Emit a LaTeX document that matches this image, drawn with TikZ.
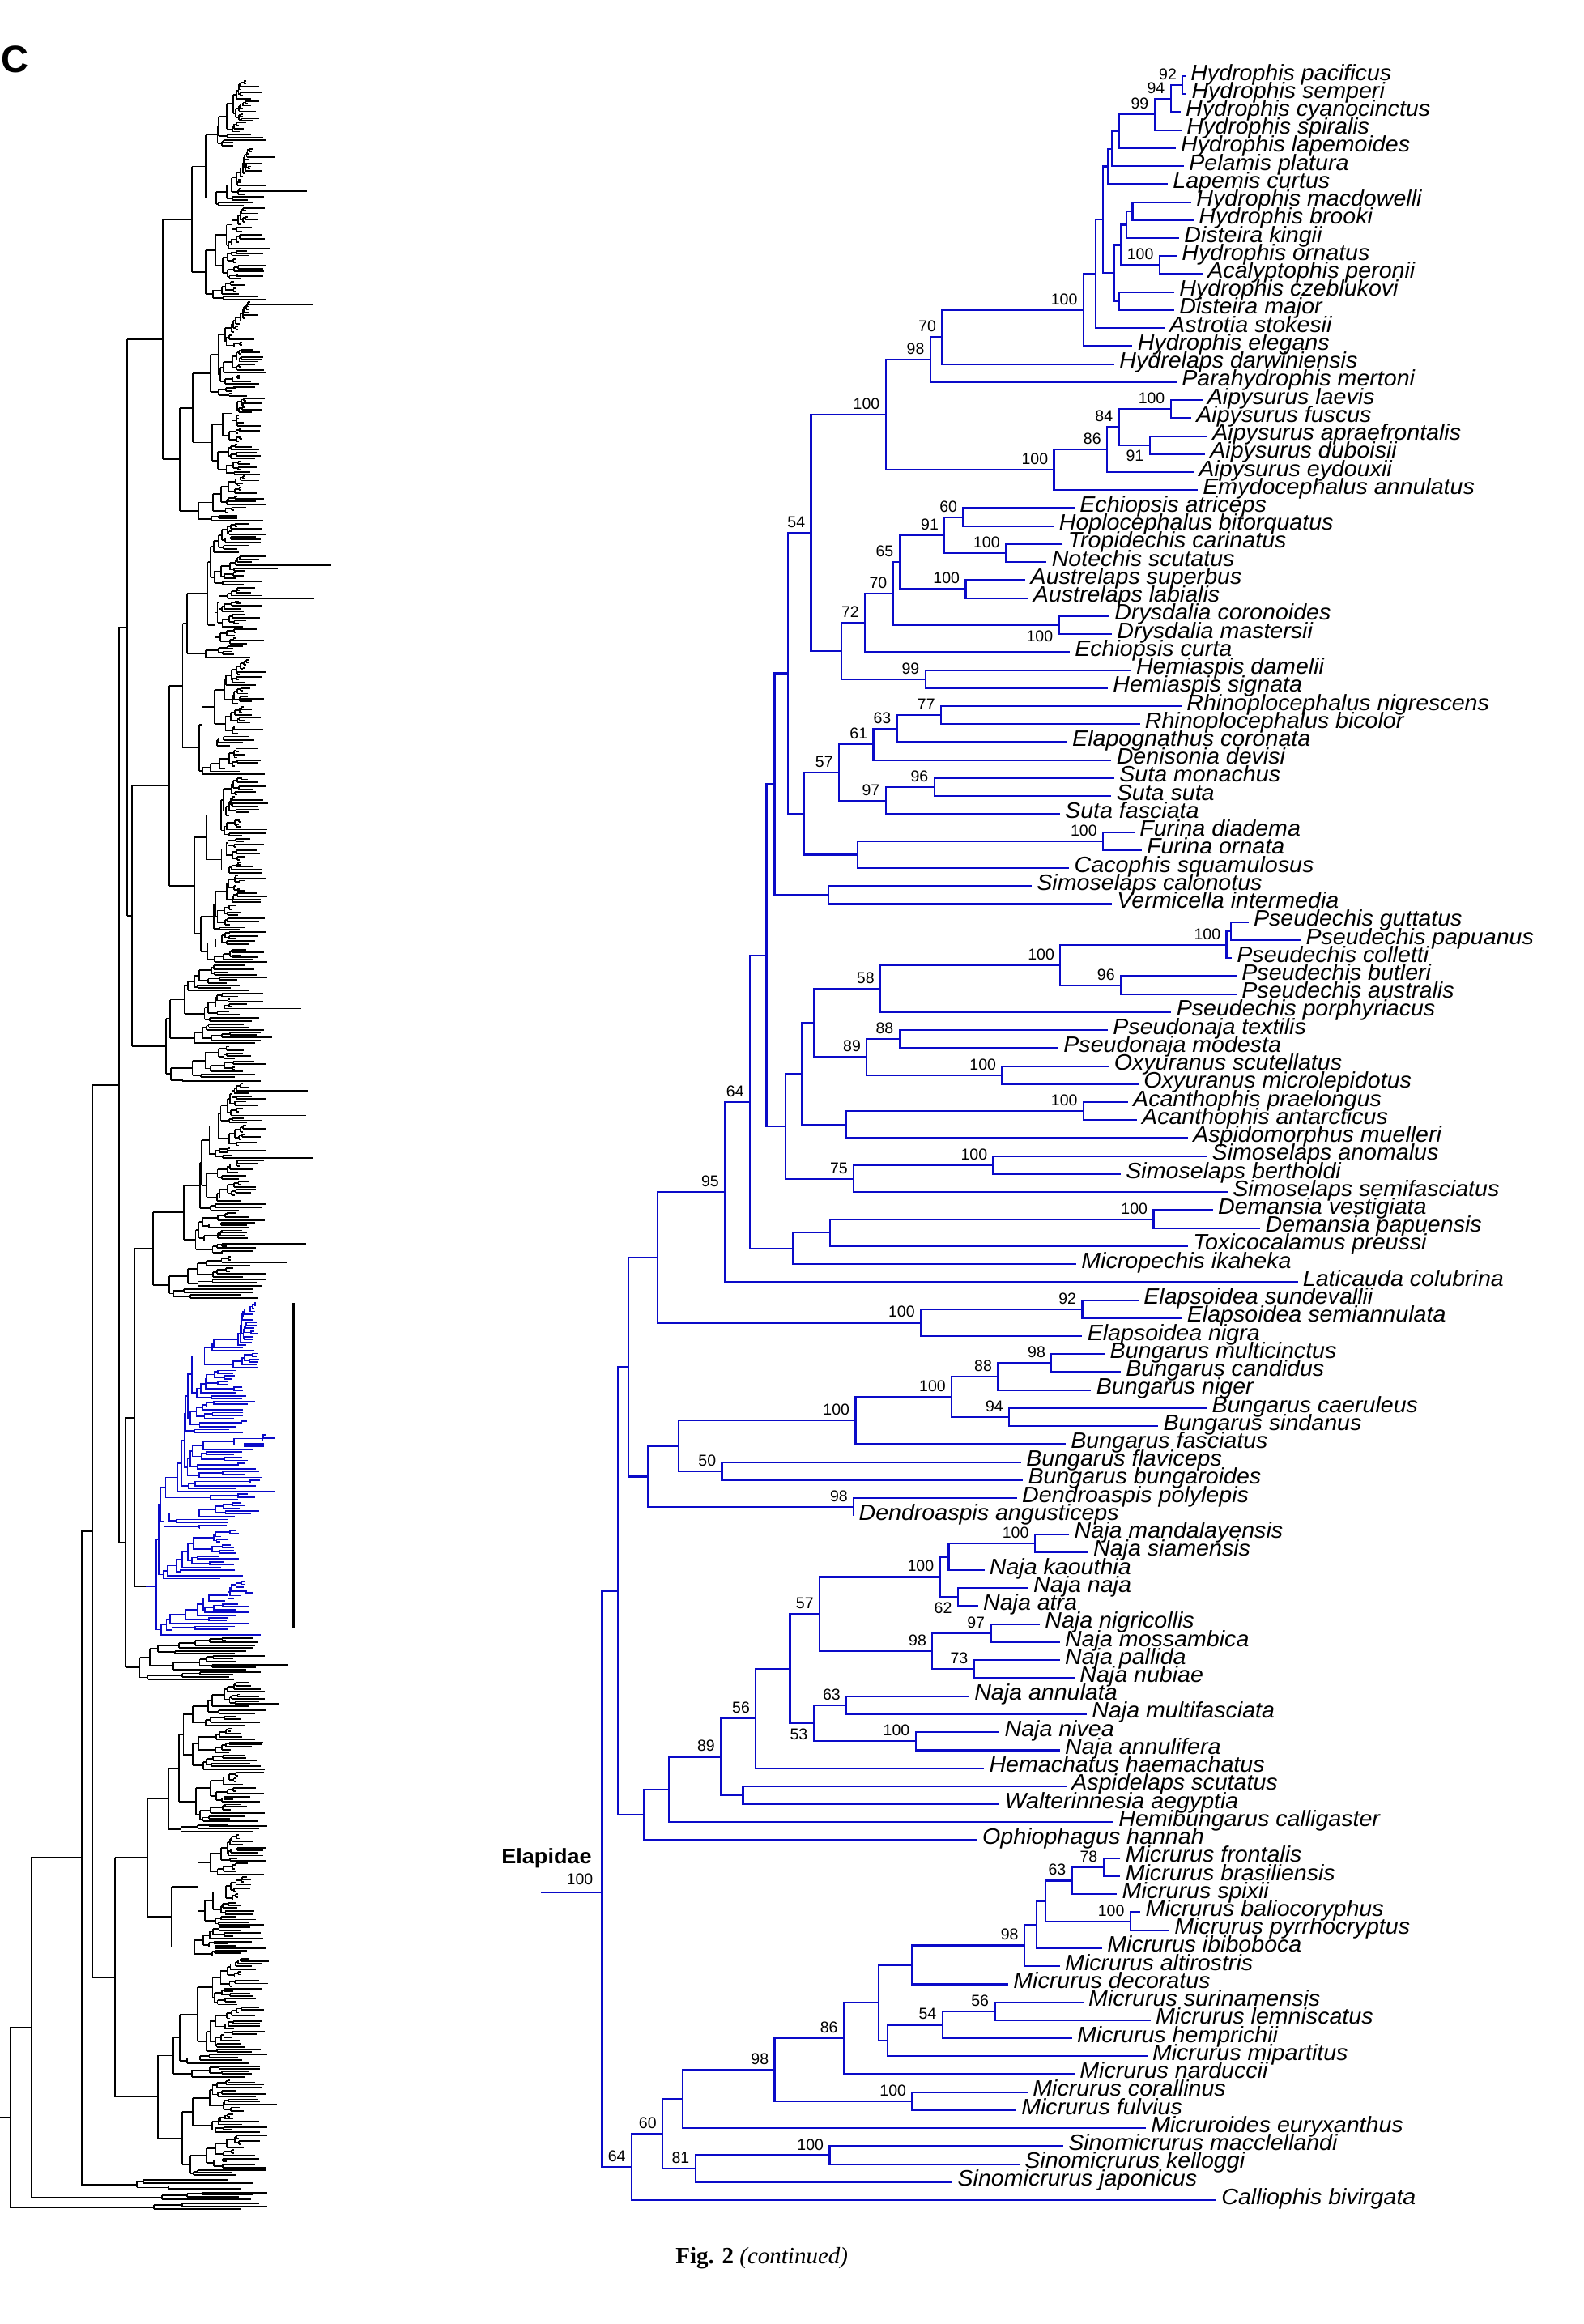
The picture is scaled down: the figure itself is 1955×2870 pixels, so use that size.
\documentclass[tikz,border=0pt]{standalone}
\usepackage{fontspec}
\setmainfont{Liberation Sans}
\newfontfamily\taxfont[FakeStretch=1.04]{Liberation Sans}
\newfontfamily\capfont{Liberation Serif}
\usetikzlibrary{calc}
\definecolor{elblue}{RGB}{10,10,200}
\newif\iflab
\def\brw{1.1pt}
\tikzset{
 br/.style={draw=elblue,line width=\brw},
 lt/.style={draw=black,line width=0.9pt},
 taxon/.style={anchor=base west,inner sep=0pt,xshift=3pt,yshift=-2.5pt,font=\taxfont\itshape\fontsize{13.75}{14}\selectfont},
 lab/.style={inner sep=0pt,font=\fontsize{9.75}{10}\selectfont},
}
\newcommand\tp[4]{\coordinate (#1) at (#3,{94+22.23*(#2-1)});\iflab\node[taxon] at (#1) {#4};\fi}
\newcommand\cl[4]{\path ($(#3)!0.5!(#4)$) coordinate (mtmp) (#2,0) coordinate (xtmp);\coordinate (#1) at (xtmp |- mtmp);\draw[br] (#3) -| (#1) |- (#4);}
\newcommand\clxy[5]{\coordinate (#1) at (#2,#3);\draw[br] (#4) -| (#1) |- (#5);}
\newcommand\la[2]{\node[lab,anchor=south east] at ([xshift=-3.5pt,yshift=3pt]#1) {#2};}
\newcommand\lb[2]{\node[lab,anchor=north east] at ([xshift=-3.5pt,yshift=-3pt]#1) {#2};}
% random black tree
\def\rtree#1#2#3{\begingroup\edef\rtpx{#1}\edef\rta{#2}\edef\rtb{#3}\rtbody\endgroup}
\def\rtbody{%
\pgfmathsetmacro\rtspan{\rtb-\rta}%
\ifdim\rtspan pt<5pt\relax
  \pgfmathsetmacro\rty{(\rta+\rtb)/2}%
  \pgfmathsetmacro\rtx{max(\rtpx+3,278+52*rnd)+(rnd<0.05)*100*rnd}%
  \draw[lt] (\rtpx,\rty) -- (\rtx,\rty);%
  \xdef\retY{\rty}%
\else
  \pgfmathsetmacro\rtnx{\rtpx+max(310-\rtpx,8)*(0.04+0.3*rnd)}%
  \pgfmathsetmacro\rts{max(\rta+3.45,min(\rtb-3.45,\rta+(\rtb-\rta)*(0.45+0.5*rnd)))}%
  \rtree{\rtnx}{\rta}{\rts}\let\rtya\retY
  \rtree{\rtnx}{\rts}{\rtb}\let\rtyb\retY
  \pgfmathsetmacro\rty{(\rtya+\rtyb)/2}%
  \draw[lt] (\rtnx,\rtya) -- (\rtnx,\rtyb) (\rtpx,\rty) -- (\rtnx,\rty);%
  \xdef\retY{\rty}%
\fi}
\newcommand\elapidtree{%
\tp{pac}{1}{1463.9}{Hydrophis pacificus}
\tp{semp}{2}{1465.1}{Hydrophis semperi}
\tp{cyan}{3}{1457.8}{Hydrophis cyanocinctus}
\tp{spir}{4}{1459}{Hydrophis spiralis}
\tp{lapm}{5}{1451.8}{Hydrophis lapemoides}
\tp{pela}{6}{1462}{Pelamis platura}
\tp{lcur}{7}{1442}{Lapemis curtus}
\tp{macd}{8}{1471}{Hydrophis macdowelli}
\tp{broo}{9}{1474}{Hydrophis brooki}
\tp{king}{10}{1456}{Disteira kingii}
\tp{orna}{11}{1453}{Hydrophis ornatus}
\tp{acal}{12}{1485}{Acalyptophis peronii}
\tp{czeb}{13}{1450}{Hydrophis czeblukovi}
\tp{dmaj}{14}{1450}{Disteira major}
\tp{astr}{15}{1437.8}{Astrotia stokesii}
\tp{eleg}{16}{1398.4}{Hydrophis elegans}
\tp{hydr}{17}{1376}{Hydrelaps darwiniensis}
\tp{para}{18}{1453}{Parahydrophis mertoni}
\tp{alae}{19}{1484.5}{Aipysurus laevis}
\tp{afus}{20}{1471}{Aipysurus fuscus}
\tp{aapr}{21}{1491}{Aipysurus apraefrontalis}
\tp{adub}{22}{1488}{Aipysurus duboisii}
\tp{aeyd}{23}{1474}{Aipysurus eydouxii}
\tp{emyd}{24}{1479}{Emydocephalus annulatus}
\tp{eatr}{25}{1327}{Echiopsis atriceps}
\tp{hopl}{26}{1301.5}{Hoplocephalus bitorquatus}
\tp{trop}{27}{1312.4}{Tropidechis carinatus}
\tp{note}{28}{1292.4}{Notechis scutatus}
\tp{asup}{29}{1266.3}{Austrelaps superbus}
\tp{alab}{30}{1269.4}{Austrelaps labialis}
\tp{dcor}{31}{1370}{Drysdalia coronoides}
\tp{dmas}{32}{1373}{Drysdalia mastersii}
\tp{ecur}{33}{1320.9}{Echiopsis curta}
\tp{hdam}{34}{1396.6}{Hemiaspis damelii}
\tp{hsig}{35}{1368}{Hemiaspis signata}
\tp{rnig}{36}{1459}{Rhinoplocephalus nigrescens}
\tp{rbic}{37}{1407.5}{Rhinoplocephalus bicolor}
\tp{elco}{38}{1317.8}{Elapognathus coronata}
\tp{deni}{39}{1372.4}{Denisonia devisi}
\tp{smon}{40}{1376}{Suta monachus}
\tp{ssut}{41}{1372.4}{Suta suta}
\tp{sfas}{42}{1308.8}{Suta fasciata}
\tp{fdia}{43}{1400.9}{Furina diadema}
\tp{forn}{44}{1409.7}{Furina ornata}
\tp{caco}{45}{1320.3}{Cacophis squamulosus}
\tp{scal}{46}{1274}{Simoselaps calonotus}
\tp{verm}{47}{1373}{Vermicella intermedia}
\tp{pgut}{48}{1541.6}{Pseudechis guttatus}
\tp{ppap}{49}{1606.1}{Pseudechis papuanus}
\tp{pcol}{50}{1521}{Pseudechis colletti}
\tp{pbut}{51}{1527}{Pseudechis butleri}
\tp{paus}{52}{1527}{Pseudechis australis}
\tp{ppor}{53}{1446.4}{Pseudechis porphyriacus}
\tp{ptex}{54}{1368}{Pseudonaja textilis}
\tp{pmod}{55}{1307}{Pseudonaja modesta}
\tp{oscu}{56}{1369.4}{Oxyuranus scutellatus}
\tp{omic}{57}{1406}{Oxyuranus microlepidotus}
\tp{apra}{58}{1392.8}{Acanthophis praelongus}
\tp{aant}{59}{1403.8}{Acanthophis antarcticus}
\tp{aspm}{60}{1466.9}{Aspidomorphus muelleri}
\tp{sano}{61}{1490.3}{Simoselaps anomalus}
\tp{sber}{62}{1384}{Simoselaps bertholdi}
\tp{ssem}{63}{1516}{Simoselaps semifasciatus}
\tp{dves}{64}{1497.7}{Demansia vestigiata}
\tp{dpap}{65}{1556.3}{Demansia papuensis}
\tp{toxi}{66}{1466.9}{Toxicocalamus preussi}
\tp{mike}{67}{1329}{Micropechis ikaheka}
\tp{lati}{68}{1602.5}{Laticauda colubrina}
\tp{esun}{69}{1406}{Elapsoidea sundevallii}
\tp{esem}{70}{1459.5}{Elapsoidea semiannulata}
\tp{enig}{71}{1336.4}{Elapsoidea nigra}
\tp{bmul}{72}{1364.3}{Bungarus multicinctus}
\tp{bcan}{73}{1384}{Bungarus candidus}
\tp{bnig}{74}{1347.4}{Bungarus niger}
\tp{bcae}{75}{1490.3}{Bungarus caeruleus}
\tp{bsin}{76}{1430.2}{Bungarus sindanus}
\tp{bfas}{77}{1315.9}{Bungarus fasciatus}
\tp{bfla}{78}{1260.9}{Bungarus flaviceps}
\tp{bbun}{79}{1263.1}{Bungarus bungaroides}
\tp{dpol}{80}{1255.8}{Dendroaspis polylepis}
\tp{dang}{81}{1054.2}{Dendroaspis angusticeps}
\tp{nman}{82}{1320.3}{Naja mandalayensis}
\tp{nsia}{83}{1343.7}{Naja siamensis}
\tp{nkao}{84}{1215.5}{Naja kaouthia}
\tp{nnaj}{85}{1269.8}{Naja naja}
\tp{natr}{86}{1207.7}{Naja atra}
\tp{nnig}{87}{1284}{Naja nigricollis}
\tp{nmos}{88}{1308.8}{Naja mossambica}
\tp{npal}{89}{1308.8}{Naja pallida}
\tp{nnub}{90}{1327}{Naja nubiae}
\tp{nann}{91}{1196.9}{Naja annulata}
\tp{nmul}{92}{1342}{Naja multifasciata}
\tp{nniv}{93}{1234.2}{Naja nivea}
\tp{nanf}{94}{1308.8}{Naja annulifera}
\tp{hema}{95}{1215.1}{Hemachatus haemachatus}
\tp{aspi}{96}{1317}{Aspidelaps scutatus}
\tp{walt}{97}{1234.2}{Walterinnesia aegyptia}
\tp{hemi}{98}{1375}{Hemibungarus calligaster}
\tp{ophi}{99}{1206.8}{Ophiophagus hannah}
\tp{mfro}{100}{1383.4}{Micrurus frontalis}
\tp{mbra}{101}{1383.4}{Micrurus brasiliensis}
\tp{mspi}{102}{1379.3}{Micrurus spixii}
\tp{mbal}{103}{1408.3}{Micrurus baliocoryphus}
\tp{mpyr}{104}{1443.9}{Micrurus pyrrhocryptus}
\tp{mibi}{105}{1361}{Micrurus ibiboboca}
\tp{malt}{106}{1308.8}{Micrurus altirostris}
\tp{mdec}{107}{1245}{Micrurus decoratus}
\tp{msur}{108}{1337.8}{Micrurus surinamensis}
\tp{mlem}{109}{1420.7}{Micrurus lemniscatus}
\tp{mhem}{110}{1323.7}{Micrurus hemprichii}
\tp{mmip}{111}{1416.6}{Micrurus mipartitus}
\tp{mnar}{112}{1327}{Micrurus narduccii}
\tp{mcor}{113}{1269}{Micrurus corallinus}
\tp{mful}{114}{1254.9}{Micrurus fulvius}
\tp{meur}{115}{1414.9}{Micruroides euryxanthus}
\tp{smac}{116}{1312.9}{Sinomicrurus macclellandi}
\tp{skel}{117}{1259}{Sinomicrurus kelloggi}
\tp{sjap}{118}{1176.2}{Sinomicrurus japonicus}
\tp{cbiv}{119}{1502}{Calliophis bivirgata}
% sea snakes
\cl{n92}{1460.3}{pac}{semp}
\cl{n94}{1445.7}{n92}{cyan}
\cl{n99}{1425.7}{n94}{spir}
\cl{nA}{1381.5}{n99}{lapm}
\cl{nB}{1373}{nA}{pela}
\cl{nC}{1368}{nB}{lcur}
\cl{nD}{1398.4}{macd}{broo}
\cl{nE}{1390.6}{nD}{king}
\cl{n100o}{1431.8}{orna}{acal}
\cl{nF}{1384.5}{nE}{n100o}
\cl{nG}{1381.5}{czeb}{dmaj}
\cl{nH}{1376}{nF}{nG}
\cl{nI}{1362}{nC}{nH}
\cl{nJ}{1353}{nI}{astr}
\cl{n100s}{1337.8}{nJ}{eleg}
\cl{n70}{1163.3}{n100s}{hydr}
\cl{n98}{1148.8}{n70}{para}
\cl{n100lf}{1445.7}{alae}{afus}
\cl{n91}{1419.7}{aapr}{adub}
\cl{n84}{1381.5}{n100lf}{n91}
\cl{n86}{1367}{n84}{aeyd}
\cl{n100a}{1301.5}{n86}{emyd}
\cl{n100big}{1093.6}{n98}{n100a}
% terrestrial australasian
\cl{n60}{1189.4}{eatr}{hopl}
\cl{n100tn}{1242}{trop}{note}
\cl{n91b}{1166.3}{n60}{n100tn}
\cl{n100au}{1192.4}{asup}{alab}
\cl{n65}{1110.6}{n91b}{n100au}
\cl{n100dr}{1307.5}{dcor}{dmas}
\cl{n70b}{1102.7}{n65}{n100dr}
\cl{n72}{1068.2}{n70b}{ecur}
\cl{n99h}{1142.7}{hdam}{hsig}
\cl{nK}{1039}{n72}{n99h}
\cl{n54}{1001.5}{n100big}{nK}
\cl{n77}{1162}{rnig}{rbic}
\cl{n63}{1107.6}{n77}{elco}
\cl{n61}{1078.5}{n63}{deni}
\cl{n96}{1153.6}{smon}{ssut}
\cl{n97}{1093.6}{n96}{sfas}
\cl{n57}{1036}{n61}{n97}
\cl{n100f}{1362}{fdia}{forn}
\cl{nM}{1059.3}{n100f}{caco}
\cl{nL}{992.4}{n57}{nM}
\cl{n973}{973}{n54}{nL}
\cl{nSV}{1022.7}{scal}{verm}
\cl{nN}{956.5}{n973}{nSV}
\cl{ngp}{1519.7}{pgut}{ppap}
\cl{n100g}{1514.5}{ngp}{pcol}
\cl{n96p}{1384}{pbut}{paus}
\cl{n100p}{1309.3}{n100g}{n96p}
\cl{n58}{1087}{n100p}{ppor}
\cl{n88}{1110.6}{ptex}{pmod}
\cl{n100ox}{1237.4}{oscu}{omic}
\cl{n89}{1070.3}{n88}{n100ox}
\cl{nPP}{1005}{n58}{n89}
\cl{n100ac}{1337.9}{apra}{aant}
\cl{nAsp}{1044.7}{n100ac}{aspm}
\cl{nQ}{990.4}{nPP}{nAsp}
\cl{n100sim}{1226.5}{sano}{sber}
\cl{n75}{1054.2}{n100sim}{ssem}
\cl{nP}{970}{nQ}{n75}
\cl{nO}{946.4}{nN}{nP}
\cl{n100d}{1424.4}{dves}{dpap}
\cl{nR}{1024.9}{n100d}{toxi}
\cl{nS}{979.4}{nR}{mike}
\cl{n64}{926}{nO}{nS}
\cl{n95}{895.1}{n64}{lati}
\cl{n92e}{1336.4}{esun}{esem}
\cl{n100e}{1137}{n92e}{enig}
\cl{nT}{812.3}{n95}{n100e}
% Bungarus, Dendroaspis
\cl{n98b}{1298.3}{bmul}{bcan}
\cl{n88b}{1232.3}{n98b}{bnig}
\cl{n94b}{1246.2}{bcae}{bsin}
\cl{n100b1}{1175.1}{n88b}{n94b}
\cl{n100b2}{1056.4}{n100b1}{bfas}
\cl{n50}{891.5}{bfla}{bbun}
\cl{nV}{838}{n100b2}{n50}
\cl{n98d}{1054.2}{dpol}{dang}
\cl{nW}{799.8}{nV}{n98d}
\cl{nU}{775.7}{nT}{nW}
% Naja group
\cl{n100n1}{1277.8}{nman}{nsia}
\cl{nK2}{1171.5}{n100n1}{nkao}
\cl{n62}{1182.8}{nnaj}{natr}
\cl{n100n3}{1160.5}{nK2}{n62}
\cl{n97n}{1223.4}{nnig}{nmos}
\cl{n73}{1202.7}{npal}{nnub}
\cl{n98n}{1151.3}{n97n}{n73}
\cl{n57n}{1012}{n100n3}{n98n}
\cl{n63n}{1045.2}{nann}{nmul}
\cl{n100nv}{1130.6}{nniv}{nanf}
\cl{n53}{1004.6}{n63n}{n100nv}
\cl{nX}{975.5}{n57n}{n53}
\cl{n56}{933.3}{nX}{hema}
\cl{nY}{917.5}{aspi}{walt}
\cl{n89n}{890.2}{n56}{nY}
\cl{nZ}{826.3}{n89n}{hemi}
\cl{nAA}{794.8}{nZ}{ophi}
\cl{nAB}{763.3}{nU}{nAA}
% Micrurus group
\cl{n78}{1362.7}{mfro}{mbra}
\cl{n63m}{1323.7}{n78}{mspi}
\cl{n100m}{1395.8}{mbal}{mpyr}
\cl{nAD}{1290.6}{n63m}{n100m}
\cl{nAE}{1279.8}{nAD}{mibi}
\cl{n98m}{1264.9}{nAE}{malt}
\cl{nAF}{1126.4}{n98m}{mdec}
\cl{n56m}{1228.4}{msur}{mlem}
\cl{n54m}{1163.7}{n56m}{mhem}
\cl{nAG}{1095.7}{n54m}{mmip}
\cl{nAH}{1085}{nAF}{nAG}
\cl{n86m}{1041.9}{nAH}{mnar}
\cl{n100mc}{1126.4}{mcor}{mful}
\cl{n98m2}{956.5}{n86m}{n100mc}
\cl{nAI}{842.9}{n98m2}{meur}
\cl{n100sm}{1024.4}{smac}{skel}
\cl{n81}{858.6}{n100sm}{sjap}
\cl{n60m}{818}{nAI}{n81}
\cl{n64m}{779.9}{n60m}{cbiv}
\clxy{nAC}{742.6}{2337}{nAB}{n64m}
\path (668,2337) coordinate (rootst);
\draw[br] (rootst) -- (nAC);
}
\newcommand\elapidlabels{%
\la{n92}{92}\la{n94}{94}\la{n99}{99}\la{n100o}{100}\la{n100s}{100}\la{n70}{70}\la{n98}{98}\la{n100big}{100}
\la{n100lf}{100}\la{n84}{84}\la{n86}{86}\lb{n91}{91}\la{n100a}{100}\la{n54}{54}
\la{n60}{60}\la{n91b}{91}\la{n100tn}{100}\la{n65}{65}\la{n100au}{100}\la{n70b}{70}\lb{n100dr}{100}\la{n72}{72}\la{n99h}{99}
\la{n77}{77}\la{n63}{63}\la{n61}{61}\la{n57}{57}\la{n96}{96}\la{n97}{97}\la{n100f}{100}
\la{n100g}{100}\la{n100p}{100}\la{n96p}{96}\la{n58}{58}\la{n88}{88}\la{n89}{89}\la{n100ox}{100}\la{n100ac}{100}
\la{n64}{64}\la{n100sim}{100}\la{n75}{75}\la{n95}{95}\la{n100d}{100}\la{n92e}{92}\la{n100e}{100}
\la{n98b}{98}\la{n88b}{88}\la{n100b1}{100}\la{n94b}{94}\la{n100b2}{100}\la{n50}{50}\la{n98d}{98}
\la{n100n1}{100}\la{n100n3}{100}\lb{n62}{62}\la{n57n}{57}\la{n97n}{97}\la{n98n}{98}\la{n73}{73}\la{n63n}{63}\la{n100nv}{100}\lb{n53}{53}\la{n56}{56}\la{n89n}{89}
\la{n78}{78}\la{n63m}{63}\la{n100m}{100}\la{n98m}{98}\la{n56m}{56}\la{n54m}{54}\la{n86m}{86}\la{n100mc}{100}\la{n98m2}{98}\la{n60m}{60}\la{n100sm}{100}\la{n81}{81}\la{n64m}{64}
\node[lab,anchor=south east] (rootlab) at ([xshift=-5pt,yshift=4.5pt]nAC) {100};
\node[anchor=base east,inner sep=0pt,font=\taxfont\bfseries\fontsize{13}{14}\selectfont] (elapidae) at ([xshift=-5.8pt,yshift=18pt]nAC) {Elapidae};
}
\begin{document}
\begin{tikzpicture}[x=0.5pt,y=-0.5pt]
\fill[white] (0,0) rectangle (1955,2870);
\useasboundingbox (0,0) rectangle (1955,2870);
% panel letter
\node[anchor=base west,inner sep=0pt,font=\bfseries\fontsize{23.5}{24}\selectfont] (panelC) at (1,89) {C};
% main tree
\labtrue
\elapidtree
\elapidlabels
% overview copy of the Elapidae clade
\begin{scope}[shift={(66.5,1594.3)},xscale=0.17,yscale=0.1563]
\labfalse
\def\brw{0.85pt}
\elapidtree
\end{scope}
\path (rootst); \pgfgetlastxy{\bxx}{\byy}
\pgfmathsetmacro\xBlue{2*(\bxx)}
\pgfmathsetmacro\yBlue{-2*(\byy)}
% black overview tree
\pgfmathsetseed{4711}
\rtree{157.3}{98}{645}\let\yA\retY
\rtree{163}{645}{1190}\let\yB\retY
\rtree{163}{1190}{1336}\let\yC\retY
\pgfmathsetmacro\yReight{(\yB+\yC)/2}
\draw[lt] (163,\yB) -- (163,\yC);
\draw[lt] (157.3,\yReight) -- (163,\yReight);
\pgfmathsetmacro\ySeven{(\yA+\yReight)/2}
\draw[lt] (157.3,\yA) -- (157.3,\yReight);
\rtree{166}{1336}{1605}\let\yD\retY
\draw[lt] (166,\yD) -- (166,\yBlue) -- (\xBlue,\yBlue);
\pgfmathsetmacro\ySix{(\yD+\yBlue)/2}
\rtree{155}{2021}{2076}\let\yE\retY
\draw[lt] (166,\ySix) -- (155,\ySix) -- (155,\yE);
\pgfmathsetmacro\yFive{(\ySix+\yE)/2}
\draw[lt] (157.3,\ySeven) -- (146.7,\ySeven) -- (146.7,\yFive) -- (155,\yFive);
\pgfmathsetmacro\yFour{(\ySeven+\yFive)/2}
\rtree{114.3}{2076}{2688}\let\yF\retY
\draw[lt] (146.7,\yFour) -- (114.3,\yFour) -- (114.3,\yF);
\pgfmathsetmacro\yThree{(\yFour+\yF)/2}
\rtree{155}{2690}{2705}\let\yGc\retY
\draw[lt] (114.3,\yThree) -- (100.7,\yThree) -- (100.7,\yGc) -- (155,\yGc);
\pgfmathsetmacro\yTwo{(\yThree+\yGc)/2}
\rtree{157}{2706}{2718}\let\yGb\retY
\draw[lt] (100.7,\yTwo) -- (39.3,\yTwo) -- (39.3,\yGb) -- (157,\yGb);
\pgfmathsetmacro\yOne{(\yTwo+\yGb)/2}
\rtree{157}{2719}{2730}\let\yGa\retY
\draw[lt] (39.3,\yOne) -- (13.3,\yOne) -- (13.3,\yGa) -- (157,\yGa);
\pgfmathsetmacro\yZero{(\yOne+\yGa)/2}
\draw[lt] (0,\yZero) -- (13.3,\yZero);
% bracket
\coordinate (brtop) at (362.7,1609);
\coordinate (brbot) at (362.7,2011);
\draw[black,line width=1.3pt] (brtop) -- (brbot);
% caption
\node[anchor=base west,inner sep=0pt,font=\capfont\fontsize{14.5}{15}\selectfont] (caption) at (834,2795) {\textbf{Fig. 2} \textit{(continued)}};
\end{tikzpicture}
\end{document}
